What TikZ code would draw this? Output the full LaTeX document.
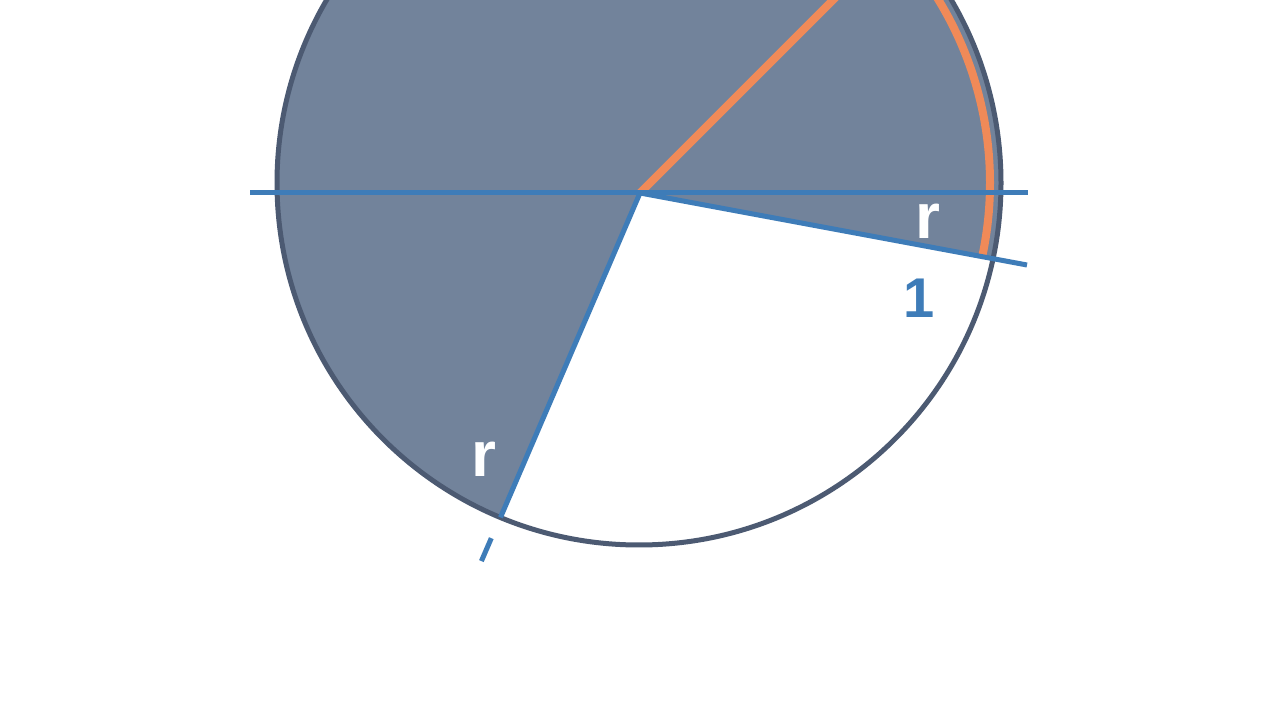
\documentclass[tikz,border=0pt]{standalone}
\usepackage{fontspec}
\setmainfont{Liberation Sans}
\definecolor{diskfill}{RGB}{114,131,155}
\definecolor{diskline}{RGB}{76,90,114}
\definecolor{radblue}{RGB}{62,124,184}
\definecolor{arcorange}{RGB}{240,138,88}
\tikzset{
  bluestroke/.style={draw=radblue, line width=5pt},
  orangestroke/.style={draw=arcorange, line width=8pt},
  whitelabel/.style={text=white, font=\fontsize{64}{64}\selectfont\bfseries, inner sep=0pt},
  bluelabel/.style={text=radblue, font=\fontsize{56}{56}\selectfont\bfseries, inner sep=0pt}
}
\begin{document}
\begin{tikzpicture}[x=1pt,y=1pt]
\useasboundingbox (0,0) rectangle (1280,720);
\clip (0,0) rectangle (1280,720);
\fill[white] (0,0) rectangle (1280,720);
% key points
\coordinate (C) at (639,537);
\coordinate (O) at (640,527);
\coordinate (A) at (500.5,202.6);
\coordinate (B) at (993.2,462.4);
\coordinate (HL) at (250,527);
\coordinate (HR) at (1028,527);
\coordinate (E) at (1027,455);
\coordinate (D1) at (491.3,181.8);
\coordinate (D2) at (481.4,158.9);
\coordinate (T) at (845,732);
% disk
\fill[diskfill] (C) circle[radius=362];
\fill[white] (O) -- (A) arc[start angle=-112.5, end angle=-11.9, radius=362] -- cycle;
\draw[diskline, line width=5pt] (C) circle[radius=362];
% orange angle and arc
\draw[orangestroke] (O) -- (T);
\draw[orangestroke] ([shift={(-12:351)}]C) arc[start angle=-12, end angle=40, radius=351];
% blue radii and axis
\draw[bluestroke] (HL) -- (HR);
\draw[bluestroke] (O) -- (E);
\draw[bluestroke] (O) -- (A);
\draw[bluestroke] (D1) -- (D2);
% labels
\node[whitelabel] (r1) at (928,499) {r};
\node[whitelabel] (r2) at (484,261) {r};
\node[bluelabel] (one) at (919,422) {1};
\end{tikzpicture}
\end{document}
